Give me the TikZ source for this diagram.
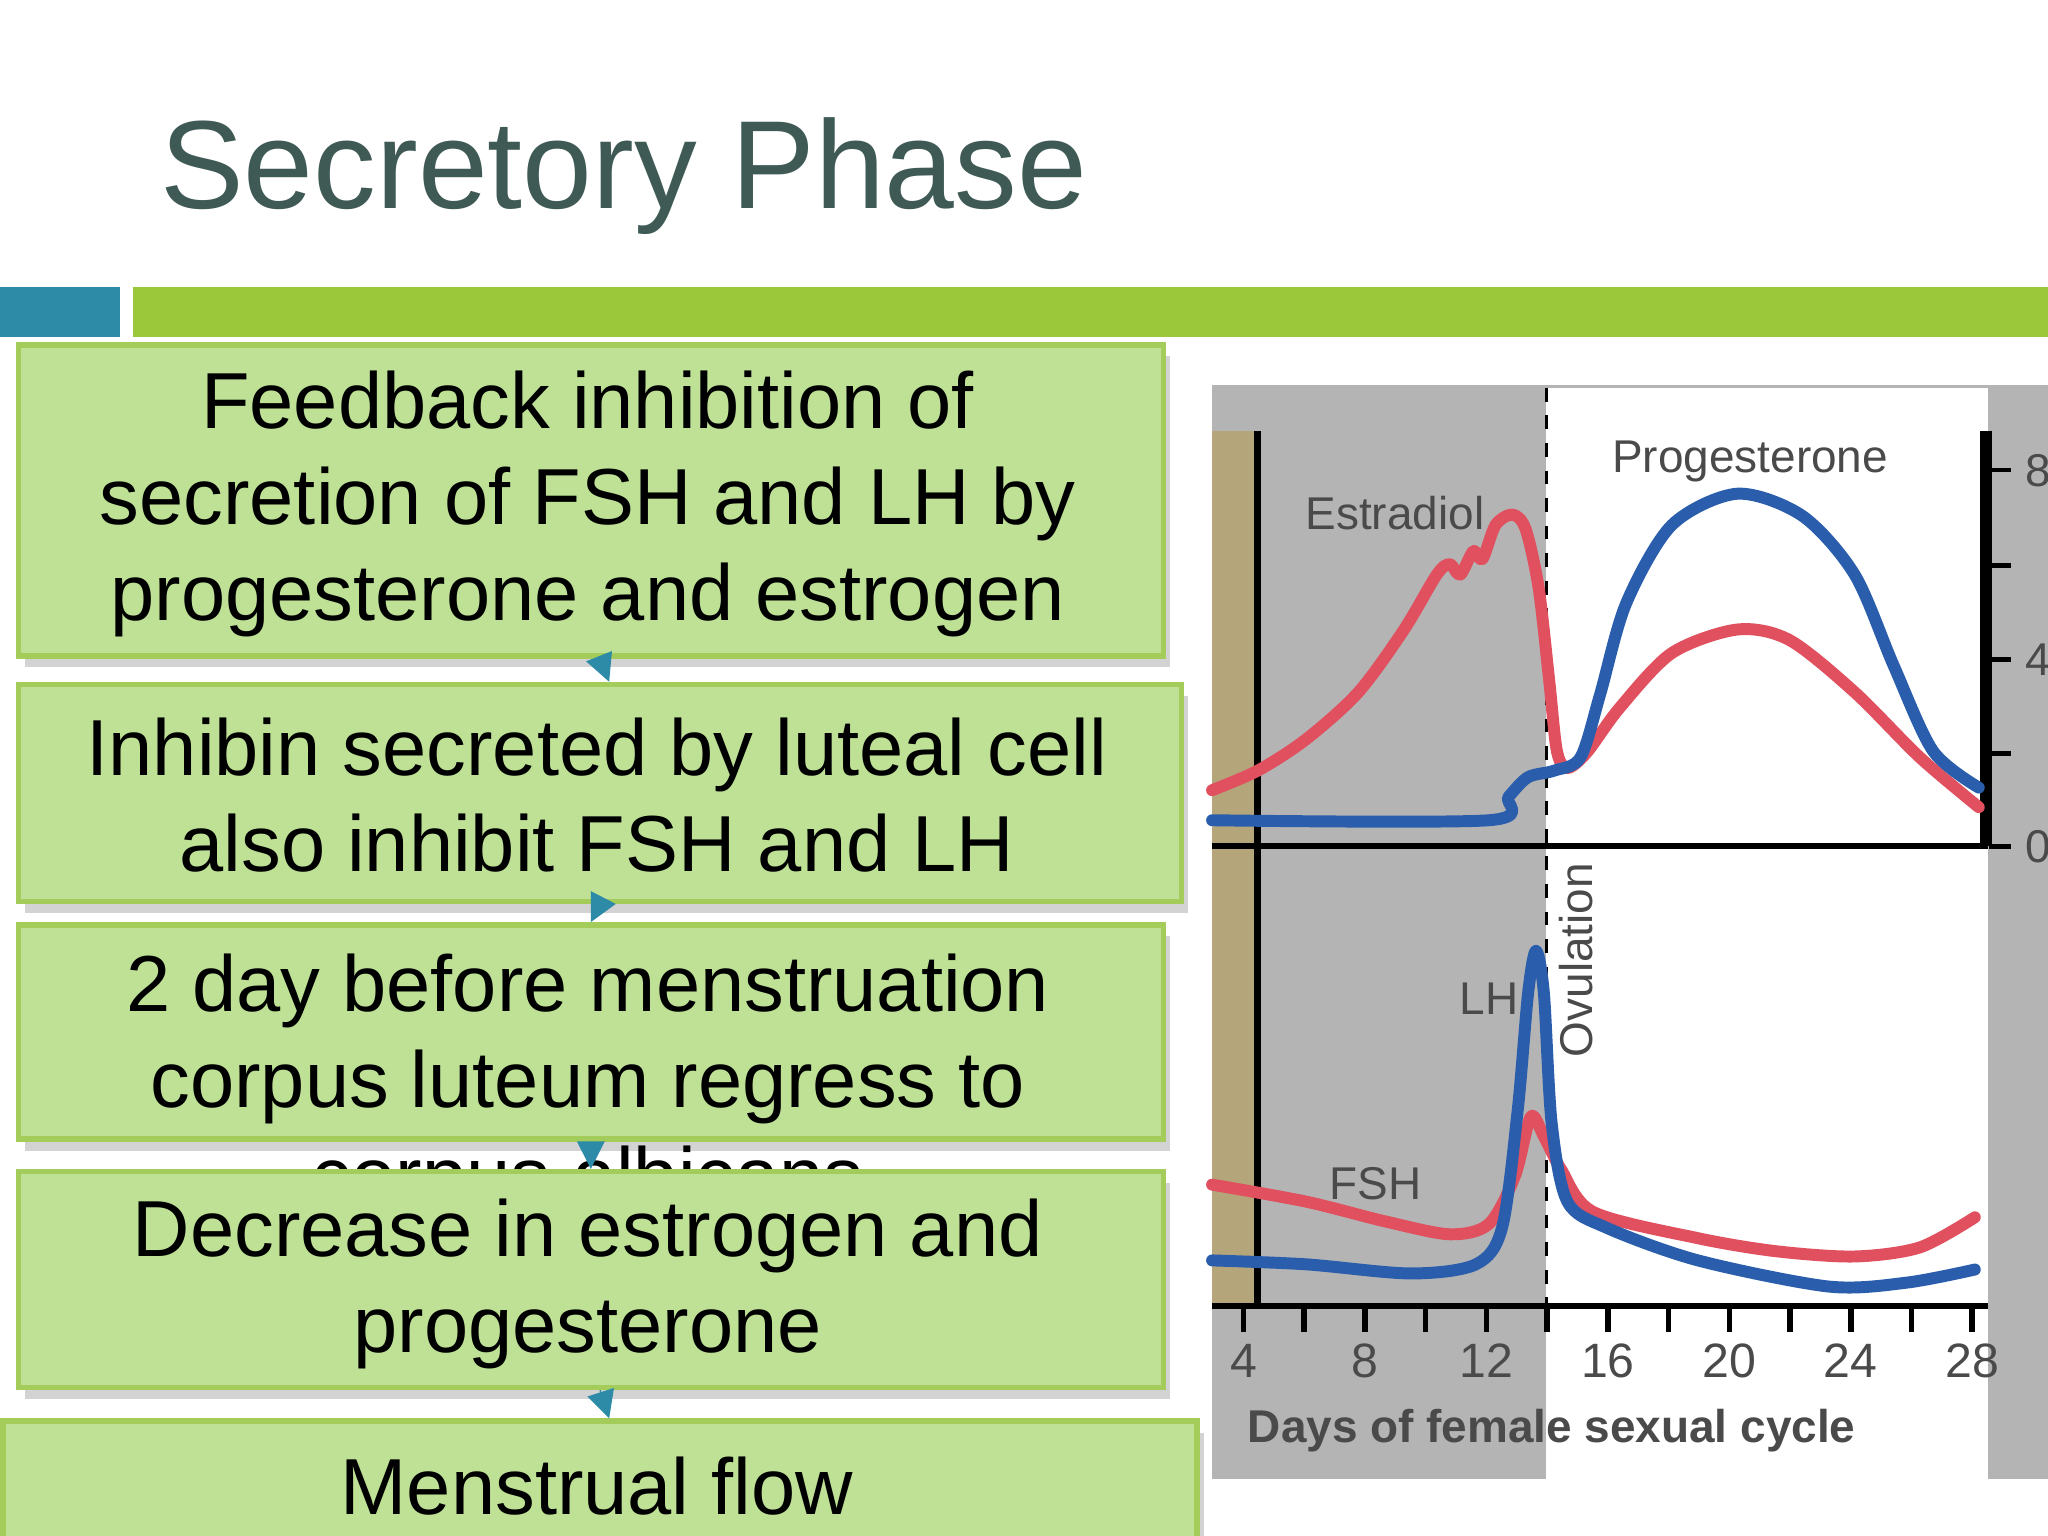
\documentclass[tikz,border=0pt]{standalone}
\usepackage{fontspec}
\setmainfont{Liberation Sans}
\usetikzlibrary{shadows,arrows.meta}
\definecolor{titlec}{HTML}{3F5A55}
\definecolor{barblue}{HTML}{2E8BA8}
\definecolor{bargreen}{HTML}{9BC83A}
\definecolor{boxfill}{HTML}{BEE196}
\definecolor{boxline}{HTML}{A3CC5A}
\definecolor{chgray}{HTML}{B4B4B4}
\definecolor{tan}{HTML}{B5A57A}
\definecolor{cred}{HTML}{E0505F}
\definecolor{cblue}{HTML}{2A5EAC}
\definecolor{lab}{HTML}{4A4A4A}
\tikzset{
 box/.style={draw=boxline,line width=1.2pt,fill=boxfill,anchor=north west,inner sep=0pt,
   drop shadow={opacity=0.35,shadow xshift=1.5pt,shadow yshift=-2.5pt}},
 btext/.style={font=\fontsize{17.3}{20.9}\selectfont,align=center,inner sep=0pt},
 flow/.style={draw=barblue,line width=0.3pt,-{Triangle[width=6pt,length=6pt]},barblue},
 curve/.style={line width=2.6pt,line cap=round,line join=round},
 clab/.style={font=\fontsize{10}{12}\selectfont,text=lab},
}
\begin{document}
\begin{tikzpicture}[x=0.01cm,y=-0.01cm]
\useasboundingbox (0,0) rectangle (1568,1176);
\node[anchor=base west,text=titlec,font=\fontsize{27.3}{30}\selectfont,inner sep=0pt] (title) at (122,160) {Secretory Phase};
\fill[barblue] (0,220) rectangle (92,258);
\fill[bargreen] (102,220) rectangle (1568,258);
% chart
\fill[chgray] (928,295) rectangle (1568,1132);
\fill[white] (1184,297) rectangle (1522,1132);
\fill[tan] (928,330) rectangle (963,1000);
\draw[line width=1.5pt] (963,330) -- (963,1000);
\draw[line width=1.3pt] (928,648) -- (1522,648);
\draw[line width=1.3pt] (928,1000) -- (1522,1000);
\draw[line width=1.3pt] (1518,330) -- (1518,648) (1523,330) -- (1523,648);
\foreach \yy in {360,433,505,577,648} \draw[line width=1pt] (1523,\yy) -- (1540,\yy);
\foreach \yy/\t in {360/8,505/4,648/0} \node[clab,anchor=west,inner sep=0pt] at (1550,\yy) {\t};
\draw[dashed,line width=0.6pt] (1184,297) -- (1184,1000);
\foreach \d in {4,6,...,28} \draw[line width=1.2pt] ({952+(\d-4)*23.25},1000) -- ({952+(\d-4)*23.25},1020);
\foreach \d in {4,8,...,28} \node[clab,font=\fontsize{10.5}{12}\selectfont] at ({952+(\d-4)*23.25},1042) {\d};
\node[font=\bfseries\fontsize{10}{12}\selectfont,text=lab] (xl) at (1188,1095) {Days of female sexual cycle};
\draw[curve,cred] plot[smooth,tension=0.5] coordinates {(928,605) (963,590) (1000,566) (1040,530) (1075,482) (1100,440) (1110,432) (1118,440) (1128,422) (1135,428) (1145,402) (1158,394) (1168,405) (1178,450) (1186,520) (1192,575) (1200,588) (1215,576) (1240,542) (1280,500) (1330,482) (1370,490) (1420,530) (1470,580) (1515,618)};
\draw[curve,cblue] plot[smooth,tension=0.5] coordinates {(928,628) (1140,628) (1155,610) (1170,595) (1190,590) (1210,580) (1225,532) (1245,462) (1280,402) (1330,378) (1380,395) (1420,440) (1450,510) (1480,575) (1515,603)};
\draw[curve,cred] plot[smooth,tension=0.5] coordinates {(928,907) (1000,920) (1060,935) (1110,945) (1140,937) (1160,900) (1172,855) (1182,870) (1195,895) (1220,928) (1300,948) (1360,958) (1420,962) (1470,955) (1512,932)};
\draw[curve,cblue] plot[smooth,tension=0.5] coordinates {(928,965) (1000,968) (1080,975) (1130,968) (1150,940) (1162,850) (1170,760) (1176,728) (1182,760) (1188,860) (1200,920) (1230,940) (1300,965) (1400,985) (1460,982) (1512,972)};
\node[clab] (es) at (1068,393) {Estradiol};
\node[clab] (pr) at (1340,353) {Progesterone};
\node[clab] (lh) at (1140,765) {LH};
\node[clab] (fsh) at (1053,906) {FSH};
\node[clab,rotate=90] (ov) at (1207,735) {Ovulation};
% flow
\node[box,minimum width=8.76cm,minimum height=2.38cm] (b1) at (12,262) {};
\node[btext] at (450,386) {Feedback inhibition of\\secretion of FSH and LH by\\progesterone and estrogen};
\node[box,minimum width=8.90cm,minimum height=1.66cm] (b2) at (12,522) {};
\node[btext] at (457,609) {Inhibin secreted by luteal cell\\also inhibit FSH and LH};
\node[box,minimum width=8.76cm,minimum height=1.64cm] (b3) at (12,706) {};
\node[btext,anchor=north] at (450,730) {2 day before menstruation\\corpus luteum regress to\\corpus albicans};
\node[box,minimum width=8.76cm,minimum height=1.65cm] (b4) at (12,895) {};
\node[btext] at (450,983) {Decrease in estrogen and\\progesterone};
\node[box,minimum width=9.14cm,minimum height=1.2cm] (b5) at (0,1086) {};
\node[btext] at (457,1138) {Menstrual flow};
\draw[flow] ([xshift=2pt]b1.south) -- ([xshift=2pt]b2.north);
\draw[flow] (b2.south) -- ([xshift=0pt]b3.north);
\draw[flow] (b3.south) -- (b4.north);
\draw[flow] ([xshift=2pt]b4.south) -- ([xshift=2pt]b5.north);
\end{tikzpicture}
\end{document}
